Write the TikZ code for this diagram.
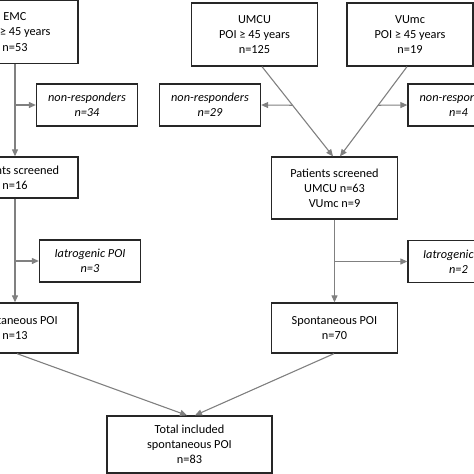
\documentclass[tikz,border=0pt]{standalone}
\usepackage{fontspec}
\setmainfont{Carlito}
\usepackage{tikz}
\usetikzlibrary{calc, positioning, arrows.meta}

\begin{document}
\begin{tikzpicture}[
  x=1pt, y=-1pt,
  font=\fontsize{12.3}{15.2}\selectfont,
  box/.style={draw=black!85, line width=1.3pt, inner sep=2pt, align=center},
  src/.style={box, minimum width=126pt, minimum height=63pt},
  mid/.style={box, minimum width=126pt},
  side/.style={box, minimum width=101pt, minimum height=42pt, font=\fontsize{12.3}{15.2}\selectfont\itshape},
  arr/.style={draw=black!50, line width=1.1pt, -{Triangle[length=7pt, width=6pt]}},
  ln/.style={draw=black!50, line width=1.1pt}
]
\useasboundingbox (0,0) rectangle (474,474);

% Row 1: the three cohorts
\node[src] (emc)  at (15,32)    {EMC\\POI ≥ 45 years\\n=53};
\node[src] (umcu) at (254.5,34.5) {UMCU\\POI ≥ 45 years\\n=125};
\node[src] (vumc) at (410,34.5) {VUmc\\POI ≥ 45 years\\n=19};

% Row 2: non-responders
\node[side] (nr34) at (87,105)  {non-responders\\n=34};
\node[side] (nr29) at (210,105) {non-responders\\n=29};
\node[side] (nr4)  at (458.5,105) {non-responders\\n=4};

% Row 3: screened
\node[mid, minimum height=41pt] (scrL) at (15,177.5)  {Patients screened\\n=16};
\node[mid, minimum height=62pt] (scrR) at (334.5,188) {Patients screened\\UMCU n=63\\VUmc n=9};

% Row 4: iatrogenic
\node[side] (iaL) at (90,261)    {Iatrogenic POI\\n=3};
\node[side] (iaR) at (458.5,261.5) {Iatrogenic POI\\n=2};

% Row 5: spontaneous
\node[mid, minimum height=50pt] (spL) at (15,328)    {Spontaneous POI\\n=13};
\node[mid, minimum height=50pt] (spR) at (334.5,328) {Spontaneous POI\\n=70};

% Row 6: total
\node[box, minimum width=165pt, minimum height=57pt] (tot) at (189.5,444.5) {Total included\\spontaneous POI\\n=83};

% EMC path
\draw[arr] (emc.south) -- (scrL.north);
\draw[arr] (emc.south |- nr34.west) -- (nr34.west);
\draw[arr] (scrL.south) -- (spL.north);
\draw[arr] (scrL.south |- iaL.west) -- (iaL.west);

% UMCU / VUmc path
\coordinate (u0) at ([xshift=7.5pt]umcu.south);
\coordinate (u1) at ([xshift=-1.5pt]scrR.north);
\coordinate (v0) at ([xshift=-3pt]vumc.south);
\coordinate (v1) at ([xshift=5.5pt]scrR.north);
\draw[arr] (u0) -- (u1);
\draw[arr] (v0) -- (v1);
\draw[arr] ($(u0)!0.43!(u1)$) -- (nr29.east);
\draw[arr] ($(v0)!0.43!(v1)$) -- (nr4.west);
\draw[arr] (scrR.south) -- (spR.north);
\draw[arr] (scrR.south |- iaR.west) -- (iaR.west);

% merge
\draw[arr] ([xshift=2pt]spL.south) -- ([xshift=-2.5pt]tot.north);
\draw[arr] ([xshift=-0.5pt]spR.south) -- ([xshift=5.5pt]tot.north);
\end{tikzpicture}
\end{document}
